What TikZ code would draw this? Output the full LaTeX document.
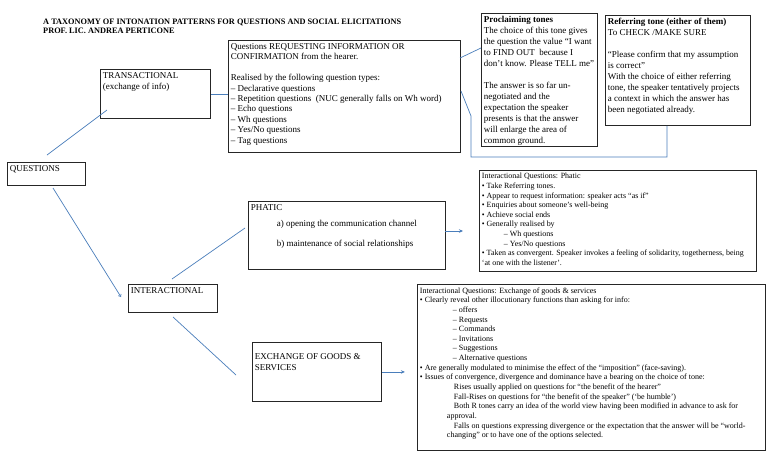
\documentclass[tikz,border=0pt]{standalone}
\usepackage{fontspec}
\setmainfont{Liberation Serif}
\usetikzlibrary{arrows.meta}
\definecolor{conn}{HTML}{4A7EBB}
\tikzset{
  bx/.style={draw=black!85, line width=0.9pt, anchor=north west, inner xsep=2.5pt, inner ysep=3pt, align=left},
  link/.style={draw=conn, line width=0.7pt},
  tip/.style={-{Stealth[length=4pt,width=3.5pt]}},
}
\newcommand{\bt}[3]{\parbox[t][#2pt][t]{#1pt}{#3}}
\begin{document}
\begin{tikzpicture}[x=1pt,y=-1pt]
\useasboundingbox[fill=white] (0,0) rectangle (768,466);

% title
\node[anchor=north west, inner sep=0pt, align=left, font=\fontsize{8.3}{9.2}\selectfont\bfseries] (title) at (43,19)
  {A TAXONOMY OF INTONATION PATTERNS FOR QUESTIONS AND SOCIAL ELICITATIONS\\PROF. LIC. ANDREA PERTICONE};

% boxes
\node[bx, font=\fontsize{9}{10.6}\selectfont] (quest) at (7,162) {\bt{73}{17}{QUESTIONS}};
\node[bx, font=\fontsize{9}{11}\selectfont] (trans) at (100,69) {\bt{105}{43}{TRANSACTIONAL\\(exchange of info)}};
\node[bx, font=\fontsize{9}{10.4}\selectfont] (qbox) at (228,40) {\bt{227}{106}{Questions REQUESTING INFORMATION OR\\CONFIRMATION from the hearer.\\[10.4pt]
Realised by the following question types:\\
– Declarative questions\\
– Repetition questions~ (NUC generally falls on Wh word)\\
– Echo questions\\
– Wh questions\\
– Yes/No questions\\
– Tag questions}};
\node[bx, font=\fontsize{9}{11}\selectfont] (procl) at (481,13) {\bt{111}{127}{\textbf{Proclaiming tones}\\
The choice of this tone gives\\
the question the value “I want\\
to FIND OUT~ because I\\
don’t know. Please TELL me”\\[11pt]
The answer is so far un-\\
negotiated and the\\
expectation the speaker\\
presents is that the answer\\
will enlarge the area of\\
common ground.}};
\node[bx, font=\fontsize{9}{11}\selectfont] (refer) at (605,15) {\bt{140}{104}{\textbf{Referring tone (either of them)}\\
To CHECK /MAKE SURE\\[11pt]
“Please confirm that my assumption\\
is correct”\\
With the choice of either referring\\
tone, the speaker tentatively projects\\
a context in which the answer has\\
been negotiated already.}};
\node[bx, font=\fontsize{9}{11}\selectfont] (inter) at (128,284) {\bt{84}{22}{INTERACTIONAL}};
\node[bx, font=\fontsize{9}{11}\selectfont] (phatic) at (248,201) {\bt{192}{62}{PHATIC\\[5pt]
\hspace*{26pt}a) opening the communication channel\\[9pt]
\hspace*{26pt}b) maintenance of social relationships}};
\node[bx, font=\fontsize{9}{11}\selectfont] (exch) at (252,342) {\bt{124}{53}{\vspace*{8pt}EXCHANGE OF GOODS \&\\SERVICES}};
\node[bx, font=\fontsize{7.95}{9.6}\selectfont] (phinfo) at (479,170) {\bt{272}{95}{Interactional Questions: Phatic\\
• Take Referring tones.\\
• Appear to request information: speaker acts “as if”\\
• Enquiries about someone’s well-being\\
• Achieve social ends\\
• Generally realised by\\
\hspace*{22pt}– Wh questions\\
\hspace*{22pt}– Yes/No questions\\
• Taken as convergent. Speaker invokes a feeling of solidarity, togetherness, being\\
‘at one with the listener’.}};
\node[bx, font=\fontsize{8}{9.65}\selectfont] (goods) at (417,284) {\bt{343}{160}{Interactional Questions: Exchange of goods \& services\\
• Clearly reveal other illocutionary functions than asking for info:\\
\hspace*{33pt}– offers\\
\hspace*{33pt}– Requests\\
\hspace*{33pt}– Commands\\
\hspace*{33pt}– Invitations\\
\hspace*{33pt}– Suggestions\\
\hspace*{33pt}– Alternative questions\\
• Are generally modulated to minimise the effect of the “imposition” (face-saving).\\
• Issues of convergence, divergence and dominance have a bearing on the choice of tone:\\
\hspace*{34pt}Rises usually applied on questions for “the benefit of the hearer”\\
\hspace*{34pt}Fall-Rises on questions for “the benefit of the speaker” (‘be humble’)\\
\hspace*{34pt}Both R tones carry an idea of the world view having been modified in advance to ask for\\
\hspace*{27pt}approval.\\
\hspace*{34pt}Falls on questions expressing divergence or the expectation that the answer will be “world-\\
\hspace*{27pt}changing” or to have one of the options selected.}};

% connector ends
\coordinate (qt1) at (47,155);
\coordinate (qt2) at (107,110);
\coordinate (qi1) at (53,188);
\coordinate (qi2) at (121,297);
\coordinate (qp1) at (460,58);
\coordinate (qp2) at (481,48);
\coordinate (qr1) at (461,91);
\coordinate (qr2) at (471,116);
\coordinate (qr3) at (471,157);
\coordinate (ip1) at (172,279);
\coordinate (ip2) at (245,228);
\coordinate (ie1) at (173,317);
\coordinate (ie2) at (236,375);
\coordinate (pa1) at (445,231);
\coordinate (pa2) at (463,231);

% connectors
\draw[link] (qt1) -- (qt2);
\draw[link, -{Straight Barb[length=2pt,width=3.2pt]}] (qi1) -- (qi2);
\draw[link] (trans.east) -- (trans.east -| qbox.west);
\draw[link] (qp1) -- (qp2);
\draw[link] (qr1) -- (qr2) -- (qr3) -| (refer.south -| 667,0);
\draw[link] (ip1) -- (ip2);
\draw[link] (ie1) -- (ie2);
\draw[link, tip] (pa1) -- (pa2);
\draw[link, tip] (exch.east) -- ++(23,0) coordinate (ex2);
\end{tikzpicture}
\end{document}
